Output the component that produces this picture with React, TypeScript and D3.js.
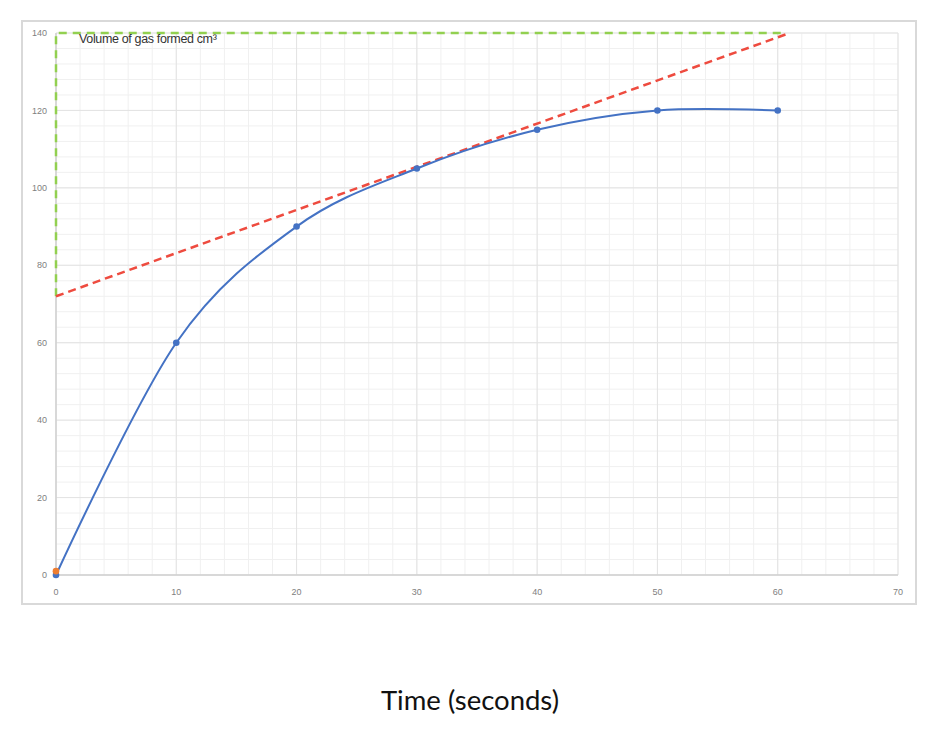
import React from "react";
import * as d3 from "d3";

const times = [0, 10, 20, 30, 40, 50, 60];
const volumes = [0, 60, 90, 105, 115, 120, 120];
const originX = [0];
const originY = [1];
const tangentX = [0, 61];
const tangentY = [72, 140];
const guideX = [0, 0, 60.5];
const guideY = [72, 140, 140];
const xTicks = [0, 10, 20, 30, 40, 50, 60, 70];
const yTicks = [0, 20, 40, 60, 80, 100, 120, 140];
const chartTitle = "Volume of gas formed cm³";
const xTitle = "Time (seconds)";

export default function App() {
  const W = 936, H = 740;
  const x = d3.scaleLinear().domain([0, 70]).range([56, 898]);
  const y = d3.scaleLinear().domain([0, 140]).range([575, 33]);

  const minorX = d3.range(0, 70.001, 2);
  const minorY = d3.range(0, 140.001, 4);

  const line = d3
    .line<[number, number]>()
    .x((d) => x(d[0]))
    .y((d) => y(d[1]))
    .curve(d3.curveCardinal.tension(0));
  const straight = d3
    .line<[number, number]>()
    .x((d) => x(d[0]))
    .y((d) => y(d[1]));

  const pts: [number, number][] = times.map((t, i) => [t, volumes[i]]);
  const tan: [number, number][] = tangentX.map((t, i) => [t, tangentY[i]]);
  const guide: [number, number][] = guideX.map((t, i) => [t, guideY[i]]);

  const tickFont = "'Liberation Sans', Arial, sans-serif";

  return (
    <svg
      width={W}
      height={H}
      style={{ position: "absolute", left: 0, top: 0, background: "#fff" }}
    >
      <rect x={0} y={0} width={W} height={H} fill="#fff" />
      <rect x={22} y={21} width={894} height={583} fill="#fff" stroke="#d9d9d9" strokeWidth={2} />
      {/* minor grid */}
      {minorX.map((v) => (
        <line key={"mx" + v} x1={x(v)} x2={x(v)} y1={y(0)} y2={y(140)} stroke="#f0f0f0" strokeWidth={1} />
      ))}
      {minorY.map((v) => (
        <line key={"my" + v} x1={x(0)} x2={x(70)} y1={y(v)} y2={y(v)} stroke="#f0f0f0" strokeWidth={1} />
      ))}
      {/* major grid */}
      {xTicks.map((v) => (
        <line key={"gx" + v} x1={x(v)} x2={x(v)} y1={y(0)} y2={y(140)} stroke="#e3e3e3" strokeWidth={1} />
      ))}
      {yTicks.map((v) => (
        <line key={"gy" + v} x1={x(0)} x2={x(70)} y1={y(v)} y2={y(v)} stroke="#e3e3e3" strokeWidth={1} />
      ))}
      {/* axes */}
      <line x1={x(0)} x2={x(70)} y1={y(0)} y2={y(0)} stroke="#d0d0d0" strokeWidth={1.5} />
      <line x1={x(0)} x2={x(0)} y1={y(0)} y2={y(140)} stroke="#d0d0d0" strokeWidth={1.5} />
      {/* tick labels */}
      {yTicks.map((v) => (
        <text key={"ty" + v} x={47} y={y(v)} dy="0.35em" textAnchor="end" fontSize={9} fill="#808080" fontFamily={tickFont}>
          {v}
        </text>
      ))}
      {xTicks.map((v) => (
        <text key={"tx" + v} x={x(v)} y={592} dy="0.35em" textAnchor="middle" fontSize={9} fill="#808080" fontFamily={tickFont}>
          {v}
        </text>
      ))}
      {/* green dashed guide */}
      <path d={straight(guide) || ""} fill="none" stroke="#92d050" strokeWidth={2.5} strokeDasharray="8,6" />
      {/* tangent */}
      <path d={straight(tan) || ""} fill="none" stroke="#ee4b3f" strokeWidth={2.5} strokeDasharray="8,5" />
      {/* data curve */}
      <path d={line(pts) || ""} fill="none" stroke="#4472c4" strokeWidth={2} />
      {pts.map((p, i) => (
        <circle key={"p" + i} cx={x(p[0])} cy={y(p[1])} r={3.3} fill="#4472c4" />
      ))}
      {originX.map((v, i) => (
        <circle key={"o" + i} cx={x(v)} cy={y(originY[i])} r={3.3} fill="#ed7d31" />
      ))}
      <text x={79} y={39} dy="0.35em" fontSize={12.5} fill="#333" fontFamily={tickFont} letterSpacing={-0.35}>
        {chartTitle}
      </text>
      <text x={470} y={710} textAnchor="middle" fontSize={27.5} fill="#111" fontFamily="Lato, 'Open Sans', sans-serif">
        {xTitle}
      </text>
    </svg>
  );
}
